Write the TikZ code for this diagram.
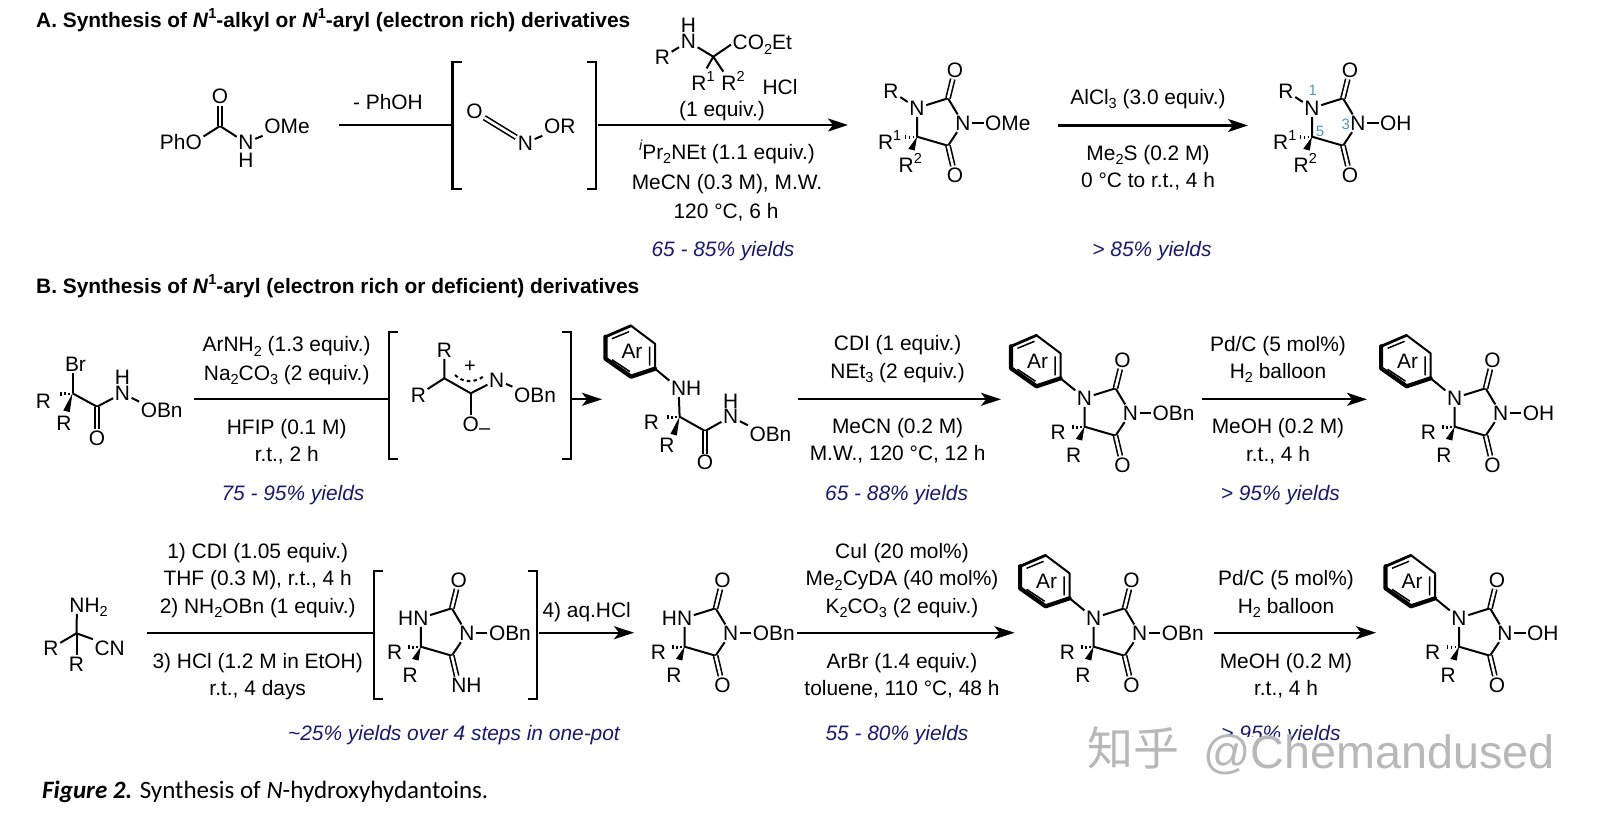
\documentclass[tikz,border=0pt]{standalone}
\usepackage{fontspec}
\setmainfont{Liberation Sans}
\newfontfamily\capfont{Carlito}
\newfontfamily\cjkfont{Noto Sans CJK SC}
\usetikzlibrary{arrows.meta,calc}
\newcommand\dn[1]{\raisebox{-0.22em}{\fontsize{14.5}{14.5}\selectfont #1}}
\newcommand\uq[1]{\raisebox{0.42em}{\fontsize{14.5}{14.5}\selectfont #1}}
\definecolor{yieldc}{HTML}{1A1A70}
\definecolor{numc}{HTML}{4F9AB5}
\definecolor{wmc}{HTML}{B8B8B8}
\tikzset{
  chemfont/.style={font=\fontsize{20.9}{24}\selectfont},
  atom/.style={chemfont,inner sep=1.5pt,text=black},
  txt/.style={chemfont,anchor=base,inner sep=0pt},
  yld/.style={font=\fontsize{20.9}{24}\selectfont\itshape,text=yieldc,anchor=base,inner sep=0pt},
  head/.style={font=\fontsize{20.9}{24}\selectfont\bfseries,anchor=base west,inner sep=0pt},
  num/.style={font=\fontsize{15}{18}\selectfont,text=numc,inner sep=0pt},
  bond/.style={line width=2pt},
  dbond/.style={line width=1.6pt,double,double distance=2.6pt},
  boldb/.style={line width=4.2pt,line cap=round},
  hashb/.style={line width=1.8pt},
  brk/.style={line width=2.2pt},
  rxn/.style={line width=2.2pt},
  rxna/.style={line width=2.2pt,-{Stealth[length=20pt,width=13pt,inset=5pt]}},
}
\newcommand\hashat[2]{\begin{scope}[shift={(#1,#2)}]\draw[hashb] (-3.5,-0.5)--(-3.5,1.5) (-7.5,-1)--(-7.5,2) (-11.5,-1.5)--(-11.5,2.5);\end{scope}}
\newcommand\wedgeat[4]{\fill (#1,#2) -- ++({#3-3.2},{#4-0.8}) -- ++(6.4,1.6) -- cycle;}
\newcommand\hyd[8]{%
\begin{scope}[shift={(#2,#3)},name prefix=#1-]
\node[atom] (N3) at (0,0) {N};
\node[atom] (N1) at (-46,-15.3) {N};
\coordinate (C2) at (-15,-25);
\coordinate (C4) at (-15,22.4);
\coordinate (C5) at (-46,13.4);
\node[atom] (O2) at (-8,-53.3) {O};
\node[atom] (O4) at (-8,51.7) {#5};
\node[atom,anchor=base west] (S) at (20.5,7.5) {#4};
\node[atom,anchor=base east] (RL) at (#8,26) {#6};
\node[atom,anchor=base west] (RB) at (-66,49.2) {#7};
\draw[bond] (N1) -- (C2) -- (N3) -- (C4) -- (C5) -- (N1);
\draw[dbond] (C2) -- (O2);
\draw[dbond] (C4) -- (O4);
\draw[bond] (N3) -- (S.west |- N3);
\hashat{-46}{13.4}
\wedgeat{-46}{13.4}{-5.5}{13}
\end{scope}}
\newcommand\aryl[3]{%
\begin{scope}[shift={(#2,#3)},name prefix=#1-]
\coordinate (V1) at (-119.5,-67);
\coordinate (V2) at (-94,-78);
\coordinate (V3) at (-70,-60);
\coordinate (V4) at (-70,-35);
\coordinate (V5) at (-94,-27);
\coordinate (V6) at (-119.5,-45);
\node[atom] (Ar) at (-93,-52) {Ar};
\draw[bond,line join=round] (V2) -- (V3) -- (V4);
\draw[line width=2.8pt,line cap=round] (V1) -- (V2);
\draw[boldb,line join=round] (V1) -- (V6) -- (V5) -- (V4);
\draw[line width=1.5pt] (-113,-65) -- (-96,-72) (-75.5,-57) -- (-75.5,-38) (-113,-44) -- (-95,-32);
\end{scope}}
\newcommand\rline[4]{\coordinate (#1s) at (#2,#4); \coordinate (#1e) at (#3,#4); \draw[rxn] (#1s) -- (#1e);}
\newcommand\rarrow[4]{\coordinate (#1s) at (#2,#4); \coordinate (#1e) at (#3,#4); \draw[rxna] (#1s) -- (#1e);}
\newcommand\brackets[4]{\draw[brk] (#1+9,#3) -- (#1,#3) -- (#1,#4) -- (#1+9,#4); \draw[brk] (#2-9,#3) -- (#2,#3) -- (#2,#4) -- (#2-9,#4);}
\begin{document}
\begin{tikzpicture}[x=1pt,y=-1pt]
\path[use as bounding box,fill=white] (0,0) rectangle (1597,814);
% Titles
\node[head] (titleA) at (36,27) {A. Synthesis of \textit{N}\uq{1}-alkyl or \textit{N}\uq{1}-aryl (electron rich) derivatives};
\node[head] (titleB) at (36,293) {B. Synthesis of \textit{N}\uq{1}-aryl (electron rich or deficient) derivatives};

% --- A: carbamate
\node[atom] (a0O) at (193.7,142.7) {O};
\node[atom,anchor=base east,inner sep=0pt] (a0Ph) at ([xshift=-8pt]a0O.base) {Ph};
\coordinate (a0C) at (220,126);
\node[atom] (a0Od) at (220,96.7) {O};
\node[atom] (a0N) at (246,142.7) {N};
\node[atom] (a0H) at (246,160) {H};
\node[atom] (a0OMe) at (287,126.7) {OMe};
\draw[bond] (a0O) -- (a0C) -- (a0N) -- (a0OMe.south west);
\draw[dbond] (a0C) -- (a0Od);
% A arrows
\rline{ra1}{339}{452.5}{125}
\node[txt] (ra1t) at (388,109) {- PhOH};
\brackets{452.5}{596}{61.7}{189.3}
\node[atom] (a1O) at (474.5,111.7) {O};
\node[atom] (a1N) at (525.5,143) {N};
\node[atom] (a1R) at (559.7,126.7) {OR};
\draw[dbond] (a1O) -- (a1N);
\draw[bond] (a1N) -- (a1R.south west);
\rarrow{ra2}{598}{848}{125}
% A amine reagent
\node[atom] (amH) at (688.3,25) {H};
\node[atom] (amN) at (688.3,41.7) {N};
\node[atom] (amR) at (662.3,57.3) {R};
\coordinate (amC) at (713.3,56.7);
\node[atom,anchor=base west] (amCO) at (731,49.6) {CO\dn{2}Et};
\node[atom,anchor=base] (amR1) at (703,90) {R\uq{1}};
\node[atom,anchor=base] (amR2) at (733,90) {R\uq{2}};
\node[atom,anchor=base] (amHCl) at (780,94.6) {HCl};
\draw[bond] (amN) -- (amR);
\draw[bond] (amN) -- (amC) -- (amCO.west);
\draw[bond] (amC) -- ++(-6.7,11.7);
\draw[bond] (amC) -- ++(10,15);
\node[txt] (ra2t1) at (722,116) {(1 equiv.)};
\node[txt] (ra2t2) at (727,159) {\uq{\itshape i}Pr\dn{2}NEt (1.1 equiv.)};
\node[txt] (ra2t3) at (727,189) {MeCN (0.3 M), M.W.};
\node[txt] (ra2t4) at (726,218) {120 °C, 6 h};
\node[yld] (ra2y) at (723,256) {65 - 85\% yields};
% A hydantoins
\hyd{hA}{963}{123.3}{OMe}{O}{R\uq{1}}{R\uq{2}}{-60}
\node[atom] (hA-R) at (891,91) {R};
\draw[bond] (hA-N1) -- (hA-R);
\rarrow{ra3}{1058}{1248}{125.5}
\node[txt] (ra3t1) at (1148,104) {AlCl\dn{3} (3.0 equiv.)};
\node[txt] (ra3t2) at (1148,160) {Me\dn{2}S (0.2 M)};
\node[txt] (ra3t3) at (1148,187.3) {0 °C to r.t., 4 h};
\node[yld] (ra3y) at (1152,256) {> 85\% yields};
\hyd{hB}{1358}{123.3}{OH}{O}{R\uq{1}}{R\uq{2}}{-60}
\node[atom] (hB-R) at (1286,91) {R};
\draw[bond] (hB-N1) -- (hB-R);
\node[num] (n1) at (1312.7,90.7) {1};
\node[num] (n5) at (1320,131.7) {5};
\node[num] (n3) at (1345.7,124) {3};

% --- B row 1: bromoamide
\node[atom] (b0Br) at (75.5,364) {Br};
\coordinate (b0C) at (72.5,393.3);
\node[atom] (b0Rl) at (43.4,401.5) {R};
\node[atom] (b0Rb) at (63.8,423.3) {R};
\coordinate (b0CO) at (97,406.7);
\node[atom] (b0O) at (97,438.3) {O};
\node[atom] (b0N) at (122.4,393.3) {N};
\node[atom] (b0H) at (122.4,377) {H};
\node[atom] (b0OBn) at (161.7,410.7) {OBn};
\draw[bond] (b0C) -- (b0C |- b0Br.south);
\draw[bond] (b0C) -- (b0CO) -- (b0N) -- (b0OBn.north west);
\draw[dbond] (b0CO) -- (b0O);
\hashat{72.5}{393.3}
\wedgeat{72.5}{393.3}{-6}{18}
\rline{rb1}{194}{389}{399.3}
\node[txt] (rb1t1) at (286.7,351.7) {ArNH\dn{2} (1.3 equiv.)};
\node[txt] (rb1t2) at (286.7,380) {Na\dn{2}CO\dn{3} (2 equiv.)};
\node[txt] (rb1t3) at (286.7,434) {HFIP (0.1 M)};
\node[txt] (rb1t4) at (286.7,461.7) {r.t., 2 h};
\node[yld] (rb1y) at (293,500) {75 - 95\% yields};
\brackets{389}{571}{331.7}{459}
% cation intermediate
\node[atom] (b1Rt) at (444.3,350) {R};
\coordinate (b1C) at (444.3,378.3);
\node[atom] (b1Rl) at (418.3,395) {R};
\coordinate (b1C2) at (470.7,393.3);
\node[atom] (b1N) at (496.7,380) {N};
\node[atom] (b1OBn) at (535,395.7) {OBn};
\node[atom] (b1O) at (470.7,424.3) {O};
\node[font=\fontsize{20}{22}\selectfont,inner sep=0pt] (b1plus) at (470,366.5) {+};
\node[font=\fontsize{20}{22}\selectfont,inner sep=0pt] (b1minus) at (484.7,431.7) {–};
\draw[bond] (b1Rt) -- (b1C) -- (b1C2) -- (b1N) -- (b1OBn.north west);
\draw[bond] (b1Rl) -- (b1C);
\draw[bond] (b1C2) -- (b1O);
\coordinate (b1a) at (455,375);
\coordinate (b1b) at (484,376);
\draw[line width=2pt,dash pattern=on 3.5pt off 3.2pt] (b1a) .. controls (463,383) and (475,383) .. (b1b);
\rarrow{rb1b}{572.4}{602}{399.3}
% amine product
\aryl{b2}{725}{403.7}
\node[atom] (b2N) at (678.6,388.3) {N};
\node[atom,anchor=base west,inner sep=0pt] (b2H) at ([xshift=7.4pt]b2N.base) {H};
\draw[bond] (b2-V4) -- (b2N);
\coordinate (b2C) at (679.6,416.7);
\node[atom] (b2Rl) at (651.5,422.7) {R};
\node[atom] (b2Rb) at (667,445.7) {R};
\coordinate (b2CO) at (705,431);
\node[atom] (b2O) at (705,462.7) {O};
\node[atom] (b2Na) at (730.6,416.7) {N};
\node[atom] (b2Ha) at (730.6,401) {H};
\node[atom] (b2OBn) at (770.4,434.3) {OBn};
\draw[bond] (b2N) -- (b2C) -- (b2CO) -- (b2Na) -- (b2OBn.north west);
\draw[dbond] (b2CO) -- (b2O);
\hashat{679.6}{416.7}
\wedgeat{679.6}{416.7}{-6}{18}
\rarrow{rb2}{797.5}{1001}{399.3}
\node[txt] (rb2t1) at (897.6,350) {CDI (1 equiv.)};
\node[txt] (rb2t2) at (897.6,378) {NEt\dn{3} (2 equiv.)};
\node[txt] (rb2t3) at (897.6,433) {MeCN (0.2 M)};
\node[txt] (rb2t4) at (897.6,460.7) {M.W., 120 °C, 12 h};
\node[yld] (rb2y) at (896.6,500.7) {65 - 88\% yields};
\hyd{hC}{1130.5}{413.3}{OBn}{O}{R}{R}{-63}
\aryl{hC}{1130.5}{413.3}
\draw[bond] (hC-V4) -- (hC-N1);
\rarrow{rb3}{1201.6}{1367}{399.3}
\node[txt] (rb3t1) at (1278,351.7) {Pd/C (5 mol\%)};
\node[txt] (rb3t2) at (1278,378) {H\dn{2} balloon};
\node[txt] (rb3t3) at (1278,433.3) {MeOH (0.2 M)};
\node[txt] (rb3t4) at (1278,461.7) {r.t., 4 h};
\node[yld] (rb3y) at (1280.4,500.7) {> 95\% yields};
\hyd{hD}{1500.6}{413.3}{OH}{O}{R}{R}{-63}
\aryl{hD}{1500.6}{413.3}
\draw[bond] (hD-V4) -- (hD-N1);

% --- B row 2: aminonitrile
\node[atom] (c0N) at (77,605) {N};
\node[atom,anchor=base west,inner sep=0pt] (c0H) at ([xshift=7.4pt]c0N.base) {H\dn{2}};
\coordinate (c0C) at (76.5,633.3);
\node[atom] (c0Rl) at (51,648.3) {R};
\node[atom] (c0Rb) at (76.5,664) {R};
\node[atom] (c0CN) at (109.7,648.3) {CN};
\draw[bond] (c0N) -- (c0C) -- (c0Rl);
\draw[bond] (c0C) -- (c0Rb);
\draw[bond] (c0C) -- (c0CN.north west);
\rline{rc1}{147}{374}{632.7}
\node[txt] (rc1t1) at (257.7,558.3) {1) CDI (1.05 equiv.)};
\node[txt] (rc1t2) at (257.7,585.7) {THF (0.3 M), r.t., 4 h};
\node[txt] (rc1t3) at (257.7,613.3) {2) NH\dn{2}OBn (1 equiv.)};
\node[txt] (rc1t4) at (257.7,668.3) {3) HCl (1.2 M in EtOH)};
\node[txt] (rc1t5) at (257.7,695.7) {r.t., 4 days};
\node[yld] (rc1y) at (454,740) {\textasciitilde 25\% yields over 4 steps in one-pot};
\brackets{374}{537}{570.7}{698.7}
\hyd{hE}{466.8}{633.3}{OBn}{N}{R}{R}{-63}
\node[atom,anchor=base east,inner sep=0pt] (hE-H1) at ([xshift=-7.4pt]hE-N1.base) {H};
\node[atom,anchor=base west,inner sep=0pt] (hE-H4) at ([xshift=7.4pt]hE-O4.base) {H};
\rarrow{rc2}{538.7}{634}{632.7}
\node[txt] (rc2t) at (586.7,617.3) {4) aq.HCl};
\hyd{hF}{730.6}{633.3}{OBn}{O}{R}{R}{-63}
\node[atom,anchor=base east,inner sep=0pt] (hF-H1) at ([xshift=-7.4pt]hF-N1.base) {H};
\rarrow{rc3}{796.5}{1014.5}{632.7}
\node[txt] (rc3t1) at (902,558.3) {CuI (20 mol\%)};
\node[txt] (rc3t2) at (902,585.7) {Me\dn{2}CyDA (40 mol\%)};
\node[txt] (rc3t3) at (902,613.3) {K\dn{2}CO\dn{3} (2 equiv.)};
\node[txt] (rc3t4) at (902,668.3) {ArBr (1.4 equiv.)};
\node[txt] (rc3t5) at (902,695.7) {toluene, 110 °C, 48 h};
\node[yld] (rc3y) at (897,740) {55 - 80\% yields};
\hyd{hG}{1139.6}{633.3}{OBn}{O}{R}{R}{-63}
\aryl{hG}{1139.6}{633.3}
\draw[bond] (hG-V4) -- (hG-N1);
\rarrow{rc4}{1213.8}{1376}{632.7}
\node[txt] (rc4t1) at (1286,585.7) {Pd/C (5 mol\%)};
\node[txt] (rc4t2) at (1286,613.3) {H\dn{2} balloon};
\node[txt] (rc4t3) at (1286,668.3) {MeOH (0.2 M)};
\node[txt] (rc4t4) at (1286,695.7) {r.t., 4 h};
\node[yld] (rc4y) at (1281,740) {> 95\% yields};
\hyd{hH}{1505}{633.3}{OH}{O}{R}{R}{-63}
\aryl{hH}{1505}{633.3}
\draw[bond] (hH-V4) -- (hH-N1);

% watermark
\fill[white] (1205,736.5) rectangle (1290,746);
\node[anchor=base west,inner sep=0pt,text=wmc,font=\fontsize{46}{50}\selectfont\cjkfont] (wm1) at (1087,765) {知乎};
\node[anchor=base west,inner sep=0pt,text=wmc,font=\fontsize{46.7}{50}\selectfont] (wm2) at (1203,768) {@Chemandused};
% caption
\node[anchor=base west,inner sep=0pt,font=\fontsize{25}{28}\selectfont\capfont] (cap) at (42,798) {{\bfseries\itshape Figure 2.} Synthesis of \textit{N}-hydroxyhydantoins.};
\end{tikzpicture}
\end{document}
